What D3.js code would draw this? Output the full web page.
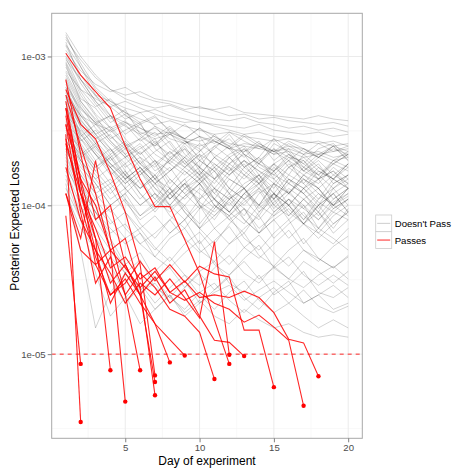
<!DOCTYPE html>
<html>
<head>
<meta charset="utf-8">
<script src="https://cdnjs.cloudflare.com/ajax/libs/d3/7.8.5/d3.min.js"></script>
<style>
body { margin: 0; background: #fff; }
text { font-family: "Liberation Sans", Arial, sans-serif; }
</style>
</head>
<body>
<div id="chart"></div>
<script>
// every loss value below is in units of 1e-5, one value per day starting at day 1
var unit = 1e-5;

// runs that never pass (all 20 days)
var grayRuns = [
    [130,95,72,60,55,58,52,50,47,45,44,46,42,41,40,39,38,40,38,37],
    [110,80,65,58,62,54,50,48,44,46,43,40,41,38,39,37,36,35,36,34],
    [145,100,75,60,52,48,45,47,43,40,38,37,39,36,35,33,34,32,33,31],
    [95,70,55,50,45,42,44,40,38,36,35,34,33,35,32,31,30,31,29,30],
    [120,85,60,48,42,38,35,37,34,32,30,31,29,28,27,28,26,27,25,26],
    [80,60,52,46,50,45,41,38,36,37,34,32,30,31,29,28,27,26,27,25],
    [100,70,50,40,36,33,30,31,28,27,29,26,25,24,23,24,22,23,21,22],
    [140,85,55,40,30,35,26,22,27,24,18,22,25,19,17,21,20,16,19,22],
    [125,70,50,38,44,30,25,33,28,20,24,30,22,19,26,23,17,21,25,20],
    [90,55,40,28,32,36,24,20,26,29,21,17,23,27,20,24,18,15,20,23],
    [85,52,45,33,25,28,34,26,19,23,30,24,18,21,28,22,19,24,26,21],
    [75,48,35,40,28,22,26,31,22,18,25,21,16,20,24,18,21,17,15,19],
    [70,42,30,22,26,19,15,21,24,17,14,19,22,16,13,18,20,15,17,14],
    [65,45,36,27,21,24,28,19,16,20,17,13,18,21,15,12,16,19,14,16],
    [60,36,26,30,22,17,20,14,18,22,15,12,16,13,17,20,14,11,15,18],
    [58,40,30,24,18,21,15,18,13,11,15,18,13,10,14,12,16,13,10,12],
    [55,35,28,32,25,19,23,27,20,16,21,25,18,15,19,22,17,20,16,19],
    [52,30,22,18,14,17,12,10,13,15,11,9,12,14,10,8.5,11,13,9.5,11],
    [50,34,26,20,24,18,14,17,20,15,12,16,19,14,11,15,13,10,14,16],
    [48,28,20,24,17,13,16,11,14,17,12,10,13,16,11,14,12,9,13,15],
    [46,30,22,16,19,14,11,15,12,9.5,13,11,8.5,12,14,10,8,11,13,10],
    [44,27,32,24,19,23,17,20,25,18,15,21,17,14,19,16,22,18,15,19],
    [42,26,19,14,17,12,9,12,15,10,8.5,11,13,9,12,10,7.5,10,12,9],
    [40,32,25,18,21,16,19,13,11,14,17,12,10,13,11,15,12,9.5,12,14],
    [38,24,17,21,15,11,14,10,8,11,13,9,7.5,10,12,8.5,11,9,7,9.5],
    [36,22,16,12,15,18,13,10,13,16,11,9,12,15,10,13,11,8.5,11,13],
    [35,28,22,17,13,16,20,15,12,15,18,13,11,14,17,12,15,13,10,13],
    [34,20,14,10,12,8.5,10,13,9,7,9.5,12,8,6.5,9,11,8,10,7.5,9],
    [32,24,18,22,16,13,15,11,14,10,8,11,13,9.5,12,9,7.5,10,12,9],
    [30,19,13,15,11,8.5,10.5,13,9.5,7.5,10,8,6.5,9,11,8,10,7,9,8],
    [29,22,26,19,15,18,14,17,21,16,13,17,20,15,12,16,14,18,15,13],
    [28,17,12,9,11,7.5,6,8,10,7,5.5,7.5,9.5,6.5,8,6,7.5,9,6.5,8],
    [27,20,15,11,13,10,12,8.5,7,9.5,11,8,9.5,7,8.5,10,7.5,6.5,8.5,10],
    [26,16,11,13,9,7,8.5,6.5,8,10,7,5.5,7,8.5,6,7.5,9,6.5,5.5,7],
    [25,18,14,10,12,15,11,9,11.5,14,10,8.5,11,13,9.5,12,10,8,10.5,12],
    [24,14,10,7.5,9,6.5,5,6.5,8,5.5,7,8.5,6,5,6.5,8,5.5,7,6,5],
    [23,16,12,14,10.5,8,9.5,12,9,7,8.5,10.5,8,6.5,8,9.5,7.5,6,7.5,9],
    [22,13,9,6,4,4.8,3.2,3.8,2.8,3.6,4.2,3,2.6,3.4,2.5,2.9,3.6,2.6,2.4,2.8],
    [19,11,7,5,3.5,4.3,2.8,2.4,3.1,2.2,2.7,3.3,2.4,2,2.6,3.1,2.2,2.5,2,2.2],
    [17,10,6,4,2.5,1.6,2,2.5,1.9,2.3,1.8,1.6,2,1.7,1.5,1.6,1.4,1.3,1.35,1.3],
    [15,8,3.5,1.8,2.4,3,2.2,2.8,3.4,2.5,2,2.6,3.1,2.3,1.9,2.2,2.7,2.1,1.9,2.1],
    [13,8,6,4.5,3.5,2.6,3,2.2,2.8,3.5,2.7,3.4,4.2,3.2,3.8,4.5,3.4,2.9,3.4,2.9],
    [14,5,1.5,2.6,3.5,2.8,3.6,4.5,3.4,2.9,3.8,4.6,3.5,3,3.9,3.2,2.8,3.4,3.9,3.2],
    [21,13,9,6.5,7.5,5.5,4.5,6,7,5,4.2,5.5,6.5,4.6,3.9,5,6,4.4,3.8,4.5],
    [18,12,8,9.5,7,5.5,6.5,8,6,4.8,5.8,7.2,5.2,4.4,5.5,6.8,5,4.2,5.3,6.2],
    [24,14,9,7,5.5,6.5,4.5,3.8,4.8,5.8,4,3.4,4.4,5.4,3.8,3.2,4.2,3.6,3,3.6],
    [16,9,11,8,6,7,5.2,4.2,5.5,6.6,5,4,5.2,6.3,4.8,3.9,5,4.4,3.8,4.6],
    [20,12,8,5.5,3.8,2.7,3.2,2.4,2,2.6,3,2.3,1.9,2.4,2.8,2.2,1.8,1.5,1.7,1.5],
    [12,7,5,3.2,2.2,2.8,2,2.5,1.8,2.2,2.6,2.9,2.3,2.7,3.1,2.6,2.2,2.5,2.9,2.4],
    [135,90,62,50,42,36,40,31,28,33,27,24,29,25,22,26,23,21,24,22],
    [118,75,54,46,38,42,34,30,35,29,26,31,27,24,28,25,22,26,23,25],
    [105,66,48,36,41,33,29,34,27,23,28,25,21,26,23,20,24,21,19,22],
    [98,60,46,52,40,35,39,32,28,33,29,25,30,26,23,27,24,21,25,23],
    [92,58,41,33,37,29,25,30,26,21,25,28,22,19,24,21,18,22,25,20],
    [88,50,37,29,24,28,22,19,24,20,17,21,24,18,16,20,17,15,19,17],
    [78,50,38,31,35,27,31,24,21,26,22,19,24,20,17,22,19,16,20,18],
    [72,46,33,26,21,25,19,23,18,15,19,16,20,17,14,18,15,13,16,14],
    [68,40,30,34,26,22,27,21,18,22,19,16,20,17,15,19,16,14,18,15],
    [62,38,27,21,25,19,16,20,17,14,18,15,13,16,19,14,12,15,17,13],
    [57,33,24,19,16,20,15,13,17,14,11,15,13,10,14,12,15,12,10,13],
    [53,37,29,23,27,21,18,23,19,16,21,18,15,19,16,14,18,16,13,16],
    [49,31,23,18,14,17,13,11,14,12,9.5,13,11,8.5,12,10,13,10.5,9,11],
    [45,29,35,27,22,26,20,17,21,18,15,19,16,14,18,15,13,17,15,13],
    [41,25,18,21,16,13,16,12,10,13,11,9,12,10,8.5,11,9.5,12,10,8.5],
    [37,23,17,13,16,12,9.5,12,14,10.5,9,11.5,9.5,8,10.5,12.5,9.5,8,10,11.5],
    [33,21,25,19,15,18,14,12,15,18,13,11,14,16,12,10,13,15,11,13],
    [31,20,15,18,13,10,12,9.5,11.5,14,10,8.5,10.5,12.5,9,11,8.5,7,9.5,11],
    [62,44,36,40,34,30,33,28,26,29,27,24,26,25,23,25,24,22,23,24],
    [55,40,35,32,36,31,28,30,27,25,27,24,23,25,22,23,21,22,20,21]
];

// runs that pass: each one stops on the day its loss falls under the threshold
var redRuns = [
    [30,0.35],
    [8.5,0.86],
    [45,15,6,0.78],
    [55,25,12,5,0.48],
    [12,6,20,6,2.5,0.78],
    [60,35,28,16.5,9,4,0.72],
    [70,22,8,10,4,2.5,0.65],
    [35,15,10,5,6,2.8,0.53],
    [40,12,5,2.2,3.5,2.5,1.6,0.88],
    [28,10,4.5,2.5,3.2,2.2,1.6,1.25,0.98],
    [35,9,3,4.5,2.5,3.5,2.8,2,1.8,1.4,0.68],
    [18,8,5,3.5,2.2,3,2.5,3.2,2.4,1.75,5.7,0.99],
    [105,75,58,45,25,15,9.8,9.8,5.9,3.5,1.7,0.86],
    [45,12,6,3,4,2.5,3.3,2.2,2.7,1.8,1.24,1.2,0.97],
    [12,5,4,2.5,3,4.2,3.1,4,3.05,3.9,3.46,3.3,1.45,1.45,0.6],
    [26,12,7,3.8,4.5,3.2,3.8,2.6,2.3,2.6,2.2,2,1.64,1.83,1.52,1.24,0.45],
    [50,14,4,5,3.8,2.8,3.6,2.6,3.1,2.4,2.5,2.4,2.65,2.4,1.9,1.26,1.19,0.71]
];

var threshold = 1e-5;
var xTicks = [5, 10, 15, 20];
var xMinor = [2.5, 7.5, 12.5, 17.5];
var yTicks = [1e-5, 1e-4, 1e-3];
var yTickLabels = ["1e-05", "1e-04", "1e-03"];
var yMinor = [Math.pow(10, -5.5), Math.pow(10, -4.5), Math.pow(10, -3.5)];
var legendLabels = ["Doesn't Pass", "Passes"];

var W = 474, H = 474;
var panel = {left: 51.7, right: 362.3, top: 13.3, bottom: 438.3};

var svg = d3.select("#chart").append("svg")
    .attr("width", W)
    .attr("height", H);

var x = d3.scaleLinear().domain([0.05, 20.95]).range([panel.left, panel.right]);
var y = d3.scaleLog().domain([2.72e-6, 1.95e-3]).range([panel.bottom, panel.top]);

var toPoints = function(run) {
    return run.map(function(v, i) { return {day: i + 1, loss: v * unit}; });
};

var line = d3.line()
    .x(function(d) { return x(d.day); })
    .y(function(d) { return y(d.loss); });

// grid
var grid = svg.append("g");
grid.selectAll(".minx").data(xMinor).enter().append("line")
    .attr("x1", x).attr("x2", x)
    .attr("y1", panel.top).attr("y2", panel.bottom)
    .attr("stroke", "#f4f4f4").attr("stroke-width", 0.6);
grid.selectAll(".miny").data(yMinor).enter().append("line")
    .attr("y1", y).attr("y2", y)
    .attr("x1", panel.left).attr("x2", panel.right)
    .attr("stroke", "#f4f4f4").attr("stroke-width", 0.6);
grid.selectAll(".majx").data(xTicks).enter().append("line")
    .attr("x1", x).attr("x2", x)
    .attr("y1", panel.top).attr("y2", panel.bottom)
    .attr("stroke", "#ebebeb").attr("stroke-width", 1);
grid.selectAll(".majy").data(yTicks).enter().append("line")
    .attr("y1", y).attr("y2", y)
    .attr("x1", panel.left).attr("x2", panel.right)
    .attr("stroke", "#ebebeb").attr("stroke-width", 1);

svg.append("g").selectAll("path")
    .data(grayRuns.map(toPoints))
    .enter().append("path")
    .attr("d", line)
    .attr("fill", "none")
    .attr("stroke", "#000")
    .attr("stroke-opacity", 0.22)
    .attr("stroke-width", 0.8);

var reds = svg.append("g");
reds.selectAll("path")
    .data(redRuns.map(toPoints))
    .enter().append("path")
    .attr("d", line)
    .attr("fill", "none")
    .attr("stroke", "#f00")
    .attr("stroke-opacity", 0.85)
    .attr("stroke-width", 1.1);

svg.append("line")
    .attr("x1", panel.left).attr("x2", panel.right)
    .attr("y1", y(threshold)).attr("y2", y(threshold))
    .attr("stroke", "#f00")
    .attr("stroke-opacity", 0.85)
    .attr("stroke-width", 1)
    .attr("stroke-dasharray", "4,4");

reds.selectAll("circle")
    .data(redRuns.map(function(r) { return toPoints(r)[r.length - 1]; }))
    .enter().append("circle")
    .attr("cx", function(d) { return x(d.day); })
    .attr("cy", function(d) { return y(d.loss); })
    .attr("r", 2.2)
    .attr("fill", "#f00");

// panel border
svg.append("rect")
    .attr("x", panel.left).attr("y", panel.top)
    .attr("width", panel.right - panel.left)
    .attr("height", panel.bottom - panel.top)
    .attr("fill", "none")
    .attr("stroke", "#a8a8a8")
    .attr("stroke-width", 1);

// axes
var xAxis = svg.append("g")
    .attr("transform", "translate(0," + panel.bottom + ")")
    .call(d3.axisBottom(x).tickValues(xTicks).tickSize(4).tickPadding(2));
var yAxis = svg.append("g")
    .attr("transform", "translate(" + panel.left + ",0)")
    .call(d3.axisLeft(y).tickValues(yTicks).tickSize(4).tickPadding(2)
        .tickFormat(function(d, i) { return yTickLabels[i]; }));

[xAxis, yAxis].forEach(function(a) {
    a.select(".domain").remove();
    a.selectAll(".tick line").attr("stroke", "#7f7f7f");
    a.selectAll(".tick text")
        .attr("fill", "#4d4d4d")
        .style("font-size", "9.6px")
        .style("font-family", "'Liberation Sans', Arial, sans-serif");
});

svg.append("text")
    .attr("x", (panel.left + panel.right) / 2)
    .attr("y", 465)
    .attr("text-anchor", "middle")
    .style("font-size", "12px")
    .text("Day of experiment");

svg.append("text")
    .attr("transform", "translate(19," + ((panel.top + panel.bottom) / 2) + ") rotate(-90)")
    .attr("text-anchor", "middle")
    .style("font-size", "12px")
    .text("Posterior Expected Loss");

// legend
var legend = svg.append("g").attr("transform", "translate(375.7,215)");
var keys = legend.selectAll("g").data(legendLabels).enter().append("g")
    .attr("transform", function(d, i) { return "translate(0," + (i * 16.7) + ")"; });
keys.append("rect")
    .attr("width", 16).attr("height", 16.7)
    .attr("fill", "#fff")
    .attr("stroke", "#cccccc")
    .attr("stroke-width", 0.8);
keys.append("line")
    .attr("x1", 1.5).attr("x2", 14.5)
    .attr("y1", 8.35).attr("y2", 8.35)
    .attr("stroke", function(d, i) { return i == 0 ? "#000" : "#f00"; })
    .attr("stroke-opacity", function(d, i) { return i == 0 ? 0.2 : 0.85; })
    .attr("stroke-width", 1);
keys.append("text")
    .attr("x", 19)
    .attr("y", 12)
    .style("font-size", "9.6px")
    .text(function(d) { return d; });
</script>
</body>
</html>
